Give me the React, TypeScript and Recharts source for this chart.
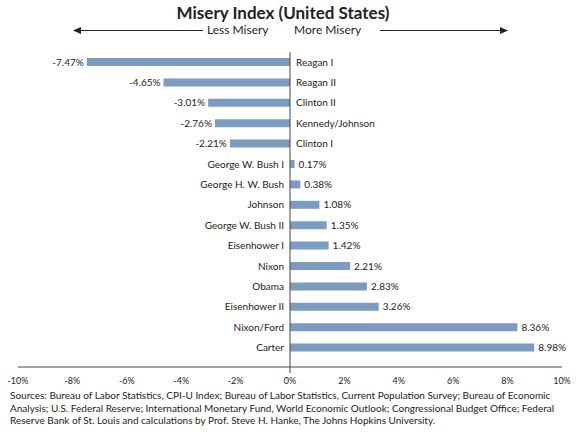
import { BarChart, Bar, XAxis, YAxis, ReferenceLine, LabelList } from 'recharts'

const presidencies = [
  'Reagan I', 'Reagan II', 'Clinton II', 'Kennedy/Johnson', 'Clinton I',
  'George W. Bush I', 'George H. W. Bush', 'Johnson', 'George W. Bush II', 'Eisenhower I',
  'Nixon', 'Obama', 'Eisenhower II', 'Nixon/Ford', 'Carter',
]
const miseryChange = [
  -7.47, -4.65, -3.01, -2.76, -2.21,
  0.17, 0.38, 1.08, 1.35, 1.42,
  2.21, 2.83, 3.26, 8.36, 8.98,
]
const xTicks = [-10, -8, -6, -4, -2, 0, 2, 4, 6, 8, 10]
const sourceLines = [
  'Sources: Bureau of Labor Statistics, CPI-U Index; Bureau of Labor Statistics, Current Population Survey; Bureau of Economic',
  'Analysis; U.S. Federal Reserve; International Monetary Fund, World Economic Outlook; Congressional Budget Office; Federal',
  'Reserve Bank of St. Louis and calculations by Prof. Steve H. Hanke, The Johns Hopkins University.',
]

const FONT = 'Lato, sans-serif'
const BAR = '#7b9cc0'
const INK = '#222'

const data = presidencies.map((name, i) => ({ name, value: miseryChange[i] }))

// name on one side of the zero line, value at the tip of the bar
const BarLabels = (props: any) => {
  const { x, y, width, height, index } = props
  const v = data[index].value
  const left = Math.min(x, x + width)
  const right = Math.max(x, x + width)
  const cy = y + height / 2 + 3.5
  if (v < 0) {
    return (
      <g fontFamily={FONT} fontSize={10} fill={INK}>
        <text x={left - 3} y={cy} textAnchor="end">{v.toFixed(2)}%</text>
        <text x={right + 6} y={cy} textAnchor="start">{data[index].name}</text>
      </g>
    )
  }
  return (
    <g fontFamily={FONT} fontSize={10} fill={INK}>
      <text x={left - 6} y={cy} textAnchor="end">{data[index].name}</text>
      <text x={right + 4} y={cy} textAnchor="start">{v.toFixed(2)}%</text>
    </g>
  )
}

const XTick = (props: any) => {
  const { x, y, payload } = props
  return (
    <g>
      {payload.value === 0 && <line x1={x} x2={x} y1={y - 8} y2={y - 2} stroke="#444" />}
      <text x={x} y={y + 9} textAnchor="middle" fontFamily={FONT} fontSize={9} fill={INK}>
        {payload.value}%
      </text>
    </g>
  )
}

export default function App() {
  return (
    <div style={{ position: 'absolute', left: 0, top: 0, width: 584, height: 432, background: '#fff', fontFamily: FONT, color: INK }}>
      <div style={{ position: 'absolute', left: 0, width: 566, top: 2, textAlign: 'center', fontSize: 17, fontWeight: 700 }}>
        Misery Index (United States)
      </div>
      <div style={{ position: 'absolute', left: 207, top: 22, fontSize: 12 }}>Less Misery</div>
      <div style={{ position: 'absolute', left: 294, top: 22, fontSize: 12 }}>More Misery</div>
      <svg width={584} height={50} style={{ position: 'absolute', left: 0, top: 0 }}>
        <line x1={80} x2={203} y1={30.5} y2={30.5} stroke="#222" />
        <polygon points="73,30.5 81,27 81,34" fill="#222" />
        <line x1={380} x2={501} y1={30.5} y2={30.5} stroke="#222" />
        <polygon points="508,30.5 500,27 500,34" fill="#222" />
      </svg>
      <div style={{ position: 'absolute', left: 0, top: 0 }}>
        <BarChart
          width={584}
          height={432}
          data={data}
          layout="vertical"
          margin={{ top: 52, right: 22, bottom: 35, left: 18 }}
        >
          <XAxis
            type="number"
            domain={[-10, 10]}
            ticks={xTicks}
            height={30}
            tickLine={false}
            axisLine={{ stroke: '#444' }}
            tick={<XTick />}
            interval={0}
          />
          <YAxis type="category" dataKey="name" hide padding={{ top: 0, bottom: 9 }} />
          <Bar dataKey="value" fill={BAR} barSize={8} isAnimationActive={false}>
            <LabelList content={<BarLabels />} />
          </Bar>
          <ReferenceLine x={0} stroke="#444" />
        </BarChart>
      </div>
      <div style={{ position: 'absolute', left: 10, top: 389, fontSize: 10, lineHeight: '12.5px', whiteSpace: 'nowrap' }}>
        {sourceLines.map((l) => (
          <div key={l}>{l}</div>
        ))}
      </div>
    </div>
  )
}
